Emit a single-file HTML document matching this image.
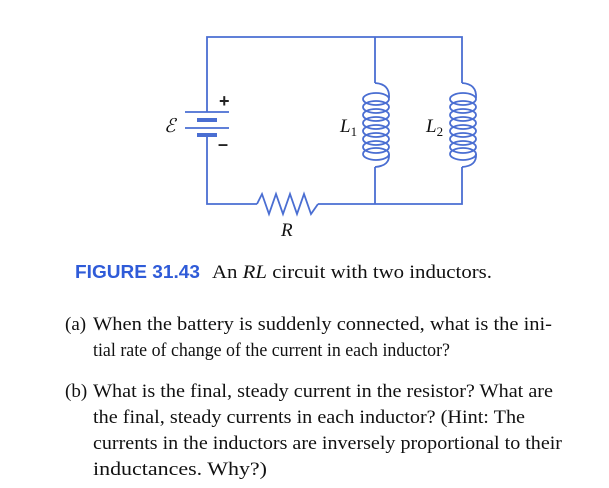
<!DOCTYPE html>
<html><head><style>
html,body{margin:0;padding:0;background:#fff;width:609px;height:488px;overflow:hidden}
svg{display:block}
</style></head><body>
<svg width="609" height="488" viewBox="0 0 609 488" xmlns="http://www.w3.org/2000/svg">
<g fill="none" stroke="#4a6ed2" stroke-width="1.8">
<path d="M207 112 V37 H462 V83"/>
<path d="M207 134 V204 H257 M318 204 H462 V167"/>
<path d="M375 37 V83 M375 167 V204"/>
<path d="M257 204 L262 194 L269 214 L276 194 L283 214 L290 194 L297 214 L304 194 L311 214 L318 204"/>
<line x1="185" y1="112" x2="229" y2="112"/>
<line x1="185" y1="128" x2="229" y2="128"/>
<g id="c1">
<path d="M375 83 Q390 84 389 98"/>
<path d="M375 167 Q390 166 389 154"/>
<ellipse cx="376" cy="99" rx="13" ry="6"/>
<ellipse cx="376" cy="107" rx="13" ry="6"/>
<ellipse cx="376" cy="115" rx="13" ry="6"/>
<ellipse cx="376" cy="123" rx="13" ry="6"/>
<ellipse cx="376" cy="131" rx="13" ry="6"/>
<ellipse cx="376" cy="139" rx="13" ry="6"/>
<ellipse cx="376" cy="147" rx="13" ry="6"/>
<ellipse cx="376" cy="154" rx="13" ry="6"/>
</g>
<use href="#c1" x="87"/>
</g>
<g stroke="#4a6ed2" stroke-width="4">
<line x1="197" y1="120" x2="217" y2="120"/>
<line x1="197" y1="135" x2="217" y2="135"/>
</g>
<g font-family="Liberation Sans, sans-serif" font-size="18" font-weight="bold" fill="#222">
<text x="219" y="107">+</text>
<text x="218" y="150">–</text>
</g>
<g font-family="Liberation Serif, serif" font-size="19" font-style="italic" fill="#111">
<text x="164" y="132">ℰ</text>
<text x="340" y="132">L<tspan font-size="13" dy="4" font-style="normal">1</tspan></text>
<text x="426" y="132">L<tspan font-size="13" dy="4" font-style="normal">2</tspan></text>
<text x="281" y="236">R</text>
</g>
<text x="75" y="278" font-family="Liberation Sans, sans-serif" font-weight="bold" font-size="18" fill="#2f5bd8" textLength="125" lengthAdjust="spacingAndGlyphs">FIGURE 31.43</text>
<g font-family="Liberation Serif, serif" font-size="19" fill="#111">
<text x="212" y="278" textLength="280" lengthAdjust="spacingAndGlyphs">An <tspan font-style="italic">RL</tspan> circuit with two inductors.</text>
<text x="65" y="330">(a)</text>
<text x="93" y="330" textLength="459" lengthAdjust="spacingAndGlyphs">When the battery is suddenly connected, what is the ini-</text>
<text x="93" y="356" textLength="357" lengthAdjust="spacingAndGlyphs">tial rate of change of the current in each inductor?</text>
<text x="65" y="397">(b)</text>
<text x="93" y="397" textLength="460" lengthAdjust="spacingAndGlyphs">What is the final, steady current in the resistor? What are</text>
<text x="93" y="423" textLength="432" lengthAdjust="spacingAndGlyphs">the final, steady currents in each inductor? (Hint: The</text>
<text x="93" y="449" textLength="469" lengthAdjust="spacingAndGlyphs">currents in the inductors are inversely proportional to their</text>
<text x="93" y="475" textLength="174" lengthAdjust="spacingAndGlyphs">inductances. Why?)</text>
</g>
</svg>
</body></html>
